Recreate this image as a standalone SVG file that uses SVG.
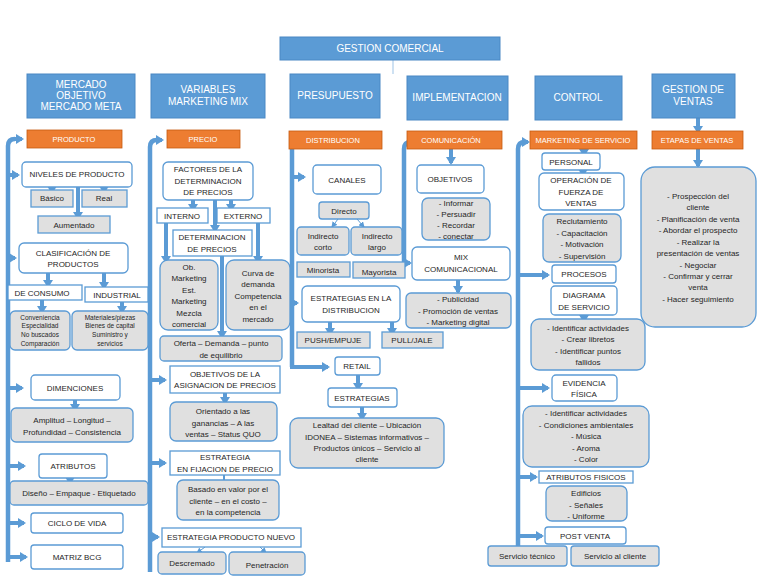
<svg xmlns="http://www.w3.org/2000/svg" width="768" height="576" viewBox="0 0 768 576">
<defs>
<style>
text{font-family:"Liberation Sans",Arial,sans-serif;font-size:8px;fill:#262626;text-anchor:middle}
.hd rect{fill:#5b9bd5;stroke:#4a88c4;stroke-width:1}
.hd text{fill:#fff;font-family:"Liberation Sans Narrow","Liberation Sans",sans-serif;font-size:10px}
.or rect{fill:#ed7d31;stroke:#c55a11;stroke-width:0.8}
.or text{fill:#fff;font-size:7.5px}
.w rect{fill:#fff;stroke:#5b9bd5;stroke-width:1.3}
.g rect{fill:#e0e0e0;stroke:#5b9bd5;stroke-width:1.3}
.trunk{fill:none;stroke:#5b9bd5;stroke-width:4.5}
.ar{fill:none;stroke:#5b9bd5;stroke-width:4;marker-end:url(#ah)}
.thin{fill:none;stroke:#5b9bd5;stroke-width:1;marker-end:url(#sh)}
</style>
<marker id="ah" markerUnits="userSpaceOnUse" markerWidth="10" markerHeight="10" refX="6" refY="5" orient="auto"><path d="M0,0 L8,5 L0,10 Z" fill="#5b9bd5"/></marker>
<marker id="sh" markerUnits="userSpaceOnUse" markerWidth="6" markerHeight="6" refX="5" refY="3" orient="auto"><path d="M0,0 L6,3 L0,6 Z" fill="#5b9bd5"/></marker>
</defs>
<rect width="768" height="576" fill="#fff"/>

<g id="connectors">
<path d="M393,60 V74" fill="none" stroke="#9dc3e6" stroke-width="1"/>
<!-- producto -->
<path class="trunk" d="M8,562 V146 Q8,139 15,139"/>
<path class="ar" d="M14,139 H22"/>
<path class="ar" d="M8,175 H18"/><path class="ar" d="M8,258 H15"/><path class="ar" d="M8,388 H22"/><path class="ar" d="M8,466 H24"/><path class="ar" d="M8,523 H24"/><path class="ar" d="M8,557 H26"/>
<path class="ar" d="M52,187 V192"/><path class="ar" d="M104,187 V192"/><path class="ar" d="M78,187 V218"/><path class="ar" d="M48,273 V286"/><path class="ar" d="M104,273 V288"/><path class="ar" d="M42,300 V312"/><path class="ar" d="M122,302 V312"/><path class="ar" d="M75,400 V410"/><path class="ar" d="M70,478 V483"/>
<!-- precio -->
<path class="trunk" d="M150,572 V147 Q150,140 157,140"/>
<path class="ar" d="M156,140 H162"/>
<path class="ar" d="M150,380 H165"/><path class="ar" d="M150,463 H165"/><path class="ar" d="M150,537 H158"/>
<path class="ar" d="M193,200 V210"/><path class="ar" d="M231,200 V210"/><path class="ar" d="M215,200 V231"/><path class="ar" d="M166,223 V262"/><path class="ar" d="M258,223 V262"/><path class="ar" d="M222,256 V337"/><path class="ar" d="M225,393 V403"/><path d="M224,475 V481" stroke="#5b9bd5" stroke-width="2"/>
<path class="thin" d="M205,547 L197,553"/><path class="thin" d="M260,547 L266,553"/>
<!-- distribucion -->
<path class="trunk" d="M292,367 V148 Q292,141 299,141"/>
<path class="ar" d="M298,141 H302"/>
<path class="ar" d="M292,177 H304"/><path class="ar" d="M292,303 H297"/><path class="ar" d="M290,367 H328"/>
<path class="ar" d="M330,322 V334"/><path class="ar" d="M392,322 V334"/><path class="ar" d="M358,375 V389"/><path class="ar" d="M362,407 V419"/>
<path class="thin" d="M338,219 L332,227"/><path class="thin" d="M357,219 L364,227"/>
<!-- comunicacion -->
<path class="trunk" d="M404,263 V149 Q404,142 411,142"/>
<path class="ar" d="M410,142 H414"/><path class="ar" d="M402,263 H410"/>
<path class="ar" d="M451,149 V163"/><path class="ar" d="M458,280 V292"/>
<!-- control -->
<path class="trunk" d="M518,557 V149 Q518,142 525,142"/>
<path class="ar" d="M524,142 H528"/>
<path class="ar" d="M518,275 H548"/><path class="ar" d="M518,388 H548"/><path class="ar" d="M518,477 H536"/><path class="ar" d="M518,536 H542"/>
<path class="ar" d="M584,149 V155"/><path class="ar" d="M583,168 V175"/><path class="ar" d="M584,315 V321"/>
<!-- ventas -->
<path class="ar" d="M698,118 V132"/><path class="ar" d="M698,149 V166"/>
</g>

<g id="gestion" class="hd"><rect x="280" y="37" width="220" height="23"/><text x="390" y="52">GESTION COMERCIAL</text></g>
<g id="mercado" class="hd"><rect x="27" y="74" width="108" height="44"/><text x="81" y="88">MERCADO</text><text x="81" y="99">OBJETIVO</text><text x="81" y="110">MERCADO META</text></g>
<g id="variables" class="hd"><rect x="151" y="74" width="114" height="44"/><text x="208" y="93">VARIABLES</text><text x="208" y="105">MARKETING MIX</text></g>
<g id="presupuesto" class="hd"><rect x="290" y="74" width="90" height="44"/><text x="335" y="99">PRESUPUESTO</text></g>
<g id="implementacion" class="hd"><rect x="407" y="76" width="101" height="44"/><text x="457" y="101">IMPLEMENTACION</text></g>
<g id="control" class="hd"><rect x="535" y="76" width="87" height="44"/><text x="578" y="101">CONTROL</text></g>
<g id="gventas" class="hd"><rect x="652" y="74" width="83" height="44"/><text x="693" y="93">GESTION DE</text><text x="693" y="105">VENTAS</text></g>

<g id="producto" class="or"><rect x="27" y="130" width="95" height="18"/><text x="74" y="142">PRODUCTO</text></g>
<g id="precio" class="or"><rect x="167" y="130" width="73" height="18"/><text x="203" y="142">PRECIO</text></g>
<g id="distribucion" class="or"><rect x="289" y="131" width="93" height="18"/><text x="333" y="143">DISTRIBUCION</text></g>
<g id="comunicacion" class="or"><rect x="407" y="131" width="95" height="18"/><text x="451" y="143">COMUNICACIÓN</text></g>
<g id="mservicio" class="or"><rect x="530" y="131" width="107" height="18"/><text x="583" y="143">MARKETING DE SERVICIO</text></g>
<g id="etapas" class="or"><rect x="652" y="131" width="91" height="18"/><text x="697" y="143">ETAPAS DE VENTAS</text></g>

<!-- producto column -->
<g id="niveles" class="w"><rect x="22" y="162" width="110" height="25" rx="4"/><text x="77" y="177">NIVELES DE PRODUCTO</text></g>
<g id="basico" class="g"><rect x="31" y="190" width="42" height="17"/><text x="52" y="201">Básico</text></g>
<g id="real" class="g"><rect x="82" y="190" width="45" height="17"/><text x="104" y="201">Real</text></g>
<g id="aumentado" class="g"><rect x="38" y="216" width="72" height="17"/><text x="74" y="228">Aumentado</text></g>
<g id="clasificacion" class="w"><rect x="19" y="243" width="109" height="30" rx="5"/><text x="73" y="256">CLASIFICACIÓN DE</text><text x="73" y="267">PRODUCTOS</text></g>
<g id="consumo" class="w"><rect x="8" y="285" width="74" height="15"/><text x="42" y="296">DE CONSUMO</text></g>
<g id="industrial" class="w"><rect x="85" y="287" width="63" height="15"/><text x="117" y="298">INDUSTRIAL</text></g>
<g id="conveniencia" class="g"><rect x="10" y="311" width="60" height="39" rx="5"/><text x="40" y="320" style="font-size:6.5px">Conveniencia</text><text x="40" y="328" style="font-size:6.5px">Especialidad</text><text x="40" y="337" style="font-size:6.5px">No buscados</text><text x="40" y="346" style="font-size:6.5px">Comparación</text></g>
<g id="materiales" class="g"><rect x="72" y="311" width="76" height="39" rx="5"/><text x="110" y="320" style="font-size:6.5px">Materiales/piezas</text><text x="110" y="328" style="font-size:6.5px">Bienes de capital</text><text x="110" y="337" style="font-size:6.5px">Suministro y</text><text x="110" y="346" style="font-size:6.5px">servicios</text></g>
<g id="dimenciones" class="w"><rect x="31" y="375" width="89" height="25" rx="4"/><text x="75" y="391">DIMENCIONES</text></g>
<g id="amplitud" class="g"><rect x="11" y="408" width="122" height="34" rx="5"/><text x="72" y="423">Amplitud – Longitud –</text><text x="72" y="435">Profundidad – Consistencia</text></g>
<g id="atributos" class="w"><rect x="39" y="454" width="68" height="24" rx="3"/><text x="73" y="469">ATRIBUTOS</text></g>
<g id="diseno" class="g"><rect x="10" y="481" width="138" height="24" rx="4"/><text x="79" y="496">Diseño – Empaque - Etiquetado</text></g>
<g id="ciclo" class="w"><rect x="31" y="513" width="92" height="20" rx="3"/><text x="77" y="526">CICLO DE VIDA</text></g>
<g id="matriz" class="w"><rect x="31" y="545" width="92" height="24" rx="3"/><text x="77" y="560">MATRIZ BCG</text></g>

<!-- precio column -->
<g id="factores" class="w"><rect x="163" y="162" width="90" height="38" rx="5"/><text x="208" y="172">FACTORES DE LA</text><text x="208" y="184">DETERMINACION</text><text x="208" y="195">DE PRECIOS</text></g>
<g id="interno" class="w"><rect x="157" y="208" width="51" height="15"/><text x="182" y="219">INTERNO</text></g>
<g id="externo" class="w"><rect x="217" y="208" width="53" height="15"/><text x="243" y="219">EXTERNO</text></g>
<g id="determinacion" class="w"><rect x="173" y="230" width="79" height="26"/><text x="212" y="240">DETERMINACION</text><text x="212" y="252">DE PRECIOS</text></g>
<g id="obmarketing" class="g"><rect x="160" y="260" width="58" height="70" rx="8"/><text x="189" y="270">Ob.</text><text x="189" y="281">Marketing</text><text x="189" y="293">Est.</text><text x="189" y="304">Marketing</text><text x="189" y="316">Mezcla</text><text x="189" y="327">comercial</text></g>
<g id="curva" class="g"><rect x="226" y="260" width="64" height="70" rx="8"/><text x="258" y="276">Curva de</text><text x="258" y="287">demanda</text><text x="258" y="299">Competencia</text><text x="258" y="310">en el</text><text x="258" y="322">mercado</text></g>
<g id="oferta" class="g"><rect x="160" y="336" width="122" height="25" rx="4"/><text x="221" y="346">Oferta – Demanda – punto</text><text x="221" y="358">de equilibrio</text></g>
<g id="objasig" class="w"><rect x="170" y="366" width="110" height="27"/><text x="225" y="377">OBJETIVOS DE LA</text><text x="225" y="388">ASIGNACION DE PRECIOS</text></g>
<g id="orientado" class="g"><rect x="170" y="402" width="107" height="39" rx="6"/><text x="223" y="414">Orientado a las</text><text x="223" y="426">ganancias – A las</text><text x="223" y="437">ventas – Status QUO</text></g>
<g id="estrfij" class="w"><rect x="170" y="451" width="110" height="24"/><text x="225" y="460">ESTRATEGIA</text><text x="225" y="472">EN FIJACION DE PRECIO</text></g>
<g id="basado" class="g"><rect x="177" y="480" width="102" height="40" rx="6"/><text x="228" y="492">Basado en valor por el</text><text x="228" y="504">cliente – en el costo –</text><text x="228" y="515">en la competencia</text></g>
<g id="prodnuevo" class="w"><rect x="162" y="528" width="139" height="19"/><text x="231" y="540">ESTRATEGIA PRODUCTO NUEVO</text></g>
<g id="descremado" class="g"><rect x="158" y="552" width="68" height="22" rx="4"/><text x="192" y="566">Descremado</text></g>
<g id="penetracion" class="g"><rect x="229" y="552" width="76" height="23" rx="4"/><text x="267" y="568">Penetración</text></g>

<!-- distribucion column -->
<g id="canales" class="w"><rect x="313" y="165" width="68" height="29" rx="4"/><text x="347" y="183">CANALES</text></g>
<g id="directo" class="g"><rect x="319" y="202" width="50" height="17" rx="3"/><text x="344" y="214">Directo</text></g>
<g id="icorto" class="g"><rect x="297" y="227" width="52" height="28" rx="4"/><text x="323" y="239">Indirecto</text><text x="323" y="250">corto</text></g>
<g id="ilargo" class="g"><rect x="351" y="227" width="51" height="28" rx="4"/><text x="377" y="239">Indirecto</text><text x="377" y="250">largo</text></g>
<g id="minorista" class="g"><rect x="297" y="262" width="53" height="15"/><text x="323" y="273">Minorista</text></g>
<g id="mayorista" class="g"><rect x="353" y="262" width="52" height="16"/><text x="379" y="275">Mayorista</text></g>
<g id="estdist" class="w"><rect x="302" y="286" width="98" height="36" rx="5"/><text x="351" y="301">ESTRATEGIAS EN LA</text><text x="351" y="313">DISTRIBUCION</text></g>
<g id="push" class="g"><rect x="297" y="332" width="73" height="16"/><text x="333" y="343">PUSH/EMPUJE</text></g>
<g id="pull" class="g"><rect x="382" y="332" width="61" height="16"/><text x="412" y="343">PULL/JALE</text></g>
<g id="retail" class="w"><rect x="335" y="357" width="45" height="18" rx="3"/><text x="357" y="369">RETAIL</text></g>
<g id="estrategias" class="w"><rect x="328" y="388" width="69" height="19" rx="3"/><text x="362" y="401">ESTRATEGIAS</text></g>
<g id="lealtad" class="g"><rect x="290" y="418" width="154" height="50" rx="8"/><text x="367" y="428">Lealtad del cliente – Ubicación</text><text x="367" y="440">IDONEA – Sistemas informativos –</text><text x="367" y="451">Productos únicos – Servicio al</text><text x="367" y="462">cliente</text></g>

<!-- comunicacion column -->
<g id="objetivos" class="w"><rect x="417" y="165" width="67" height="28" rx="4"/><text x="450" y="182">OBJETIVOS</text></g>
<g id="informar" class="g"><rect x="422" y="198" width="68" height="42" rx="6"/><text x="456" y="206">- Informar</text><text x="456" y="217">- Persuadir</text><text x="456" y="228">- Recordar</text><text x="456" y="239">- conectar</text></g>
<g id="mix" class="w"><rect x="412" y="247" width="98" height="33" rx="5"/><text x="461" y="260">MIX</text><text x="461" y="272">COMUNICACIONAL</text></g>
<g id="publicidad" class="g"><rect x="406" y="293" width="105" height="35" rx="5"/><text x="458" y="302">- Publicidad</text><text x="458" y="314">- Promoción de ventas</text><text x="458" y="325">- Marketing digital</text></g>

<!-- control column -->
<g id="personal" class="w"><rect x="542" y="153" width="58" height="17" rx="3"/><text x="571" y="165">PERSONAL</text></g>
<g id="operacion" class="w"><rect x="539" y="173" width="85" height="37" rx="5"/><text x="581" y="183">OPERACIÓN DE</text><text x="581" y="195">FUERZA DE</text><text x="581" y="206">VENTAS</text></g>
<g id="reclutamiento" class="g"><rect x="543" y="214" width="78" height="48" rx="6"/><text x="582" y="224">Reclutamiento</text><text x="582" y="236">- Capacitación</text><text x="582" y="247">- Motivación</text><text x="582" y="259">- Supervisión</text></g>
<g id="procesos" class="w"><rect x="552" y="265" width="64" height="18" rx="3"/><text x="584" y="277">PROCESOS</text></g>
<g id="diagrama" class="w"><rect x="551" y="286" width="66" height="29" rx="4"/><text x="584" y="298">DIAGRAMA</text><text x="584" y="310">DE SERVICIO</text></g>
<g id="identificar" class="g"><rect x="531" y="319" width="114" height="51" rx="8"/><text x="588" y="331">- Identificar actividades</text><text x="588" y="342">- Crear libretos</text><text x="588" y="354">- Identificar puntos</text><text x="588" y="365">fallidos</text></g>
<g id="evidencia" class="w"><rect x="552" y="375" width="65" height="26" rx="4"/><text x="584" y="386">EVIDENCIA</text><text x="584" y="397">FÍSICA</text></g>
<g id="condiciones" class="g"><rect x="523" y="406" width="126" height="61" rx="9"/><text x="586" y="416">- Identificar actividades</text><text x="586" y="428">- Condiciones ambientales</text><text x="586" y="439">- Música</text><text x="586" y="451">- Aroma</text><text x="586" y="462">- Color</text></g>
<g id="atrfisicos" class="w"><rect x="539" y="471" width="94" height="12"/><text x="586" y="480">ATRIBUTOS FISICOS</text></g>
<g id="edificios" class="g"><rect x="546" y="486" width="81" height="35" rx="6"/><text x="586" y="496">Edificios</text><text x="586" y="508">- Señales</text><text x="586" y="519">- Uniforme</text></g>
<g id="postventa" class="w"><rect x="545" y="527" width="81" height="17" rx="3"/><text x="585" y="539">POST VENTA</text></g>
<g id="stecnico" class="g"><rect x="488" y="546" width="79" height="20" rx="3"/><text x="527" y="559">Servicio técnico</text></g>
<g id="scliente" class="g"><rect x="571" y="546" width="88" height="20" rx="3"/><text x="615" y="559">Servicio al cliente</text></g>

<!-- ventas -->
<g id="pasos" class="g"><rect x="641" y="167" width="115" height="160" rx="14"/><text x="698" y="199">- Prospección del</text><text x="698" y="210">cliente</text><text x="698" y="222">- Planificación de venta</text><text x="698" y="233">- Abordar el prospecto</text><text x="698" y="245">- Realizar la</text><text x="698" y="256">presentación de ventas</text><text x="698" y="268">- Negociar</text><text x="698" y="279">- Confirmar y cerrar</text><text x="698" y="290">venta</text><text x="698" y="302">- Hacer seguimiento</text></g>
</svg>
